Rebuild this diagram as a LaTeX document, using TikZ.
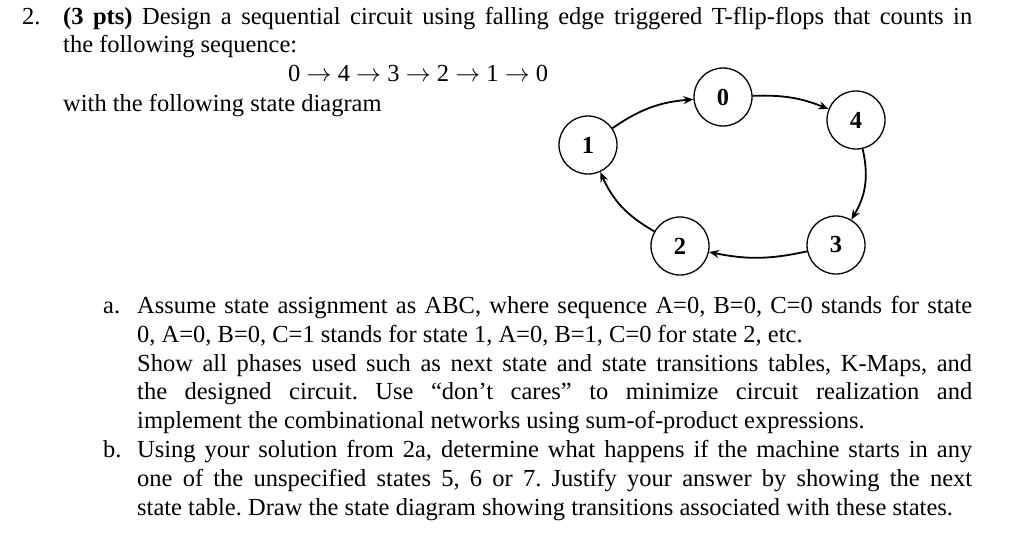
\documentclass[tikz,border=0pt]{standalone}
\usepackage{fontspec}
\setmainfont{Liberation Serif}
\usetikzlibrary{arrows.meta}
\frenchspacing
\begin{document}
\begin{tikzpicture}[x=1pt,y=-1pt,
  txt/.style={anchor=mid west,inner sep=0pt,font=\fontsize{24.5}{27}\selectfont},
  st/.style={circle,draw,line width=1.3pt,minimum size=58pt,inner sep=0pt,font=\fontsize{24.5}{27}\selectfont\bfseries},
  ar/.style={line width=1.8pt,-{Stealth[length=10pt,width=8pt]}}]
\useasboundingbox (0,0) rectangle (1024,533);
\def\W{835pt}
\node[txt] (n2) at (22,22) {2.};
\node[txt] (l1) at (63,22) {\makebox[909pt][s]{\textbf{(3 pts)} Design a sequential circuit using falling edge triggered T-flip-flops that counts in}};
\node[txt] (l2) at (63,50) {the following sequence:};
\node[txt] (l3) at (288,79) {\makebox[260pt][s]{0 $\rightarrow$ 4 $\rightarrow$ 3 $\rightarrow$ 2 $\rightarrow$ 1 $\rightarrow$ 0}};
\node[txt] (l4) at (63,109) {with the following state diagram};
\node[st] (s0) at (723,97) {0};
\node[st] (s4) at (856,120) {4};
\node[st] (s1) at (588,145) {1};
\node[st] (s2) at (680,246) {2};
\node[st] (s3) at (836,245) {3};
\draw[ar] (s1) to[bend left=15] (s0);
\draw[ar] (s0) to[bend left=12] (s4);
\draw[ar] (s4) to[bend left=22] (s3);
\draw[ar] (s3) to[bend right=-12] (s2);
\draw[ar] (s2) to[bend left=18] (s1);
\node[txt] (a) at (103,311) {a.};
\node[txt] (a1) at (137,311) {\makebox[\W][s]{Assume state assignment as ABC, where sequence A=0, B=0, C=0 stands for state}};
\node[txt] (a2) at (137,340) {0, A=0, B=0, C=1 stands for state 1, A=0, B=1, C=0 for state 2, etc.};
\node[txt] (a3) at (137,369) {\makebox[\W][s]{Show all phases used such as next state and state transitions tables, K-Maps, and}};
\node[txt] (a4) at (137,397) {\makebox[\W][s]{the designed circuit. Use “don’t cares” to minimize circuit realization and}};
\node[txt] (a5) at (137,426) {implement the combinational networks using sum-of-product expressions.};
\node[txt] (b) at (103,455) {b.};
\node[txt] (b1) at (137,455) {\makebox[\W][s]{Using your solution from 2a, determine what happens if the machine starts in any}};
\node[txt] (b2) at (137,484) {\makebox[\W][s]{one of the unspecified states 5, 6 or 7. Justify your answer by showing the next}};
\node[txt] (b3) at (137,513) {state table. Draw the state diagram showing transitions associated with these states.};
\end{tikzpicture}
\end{document}
